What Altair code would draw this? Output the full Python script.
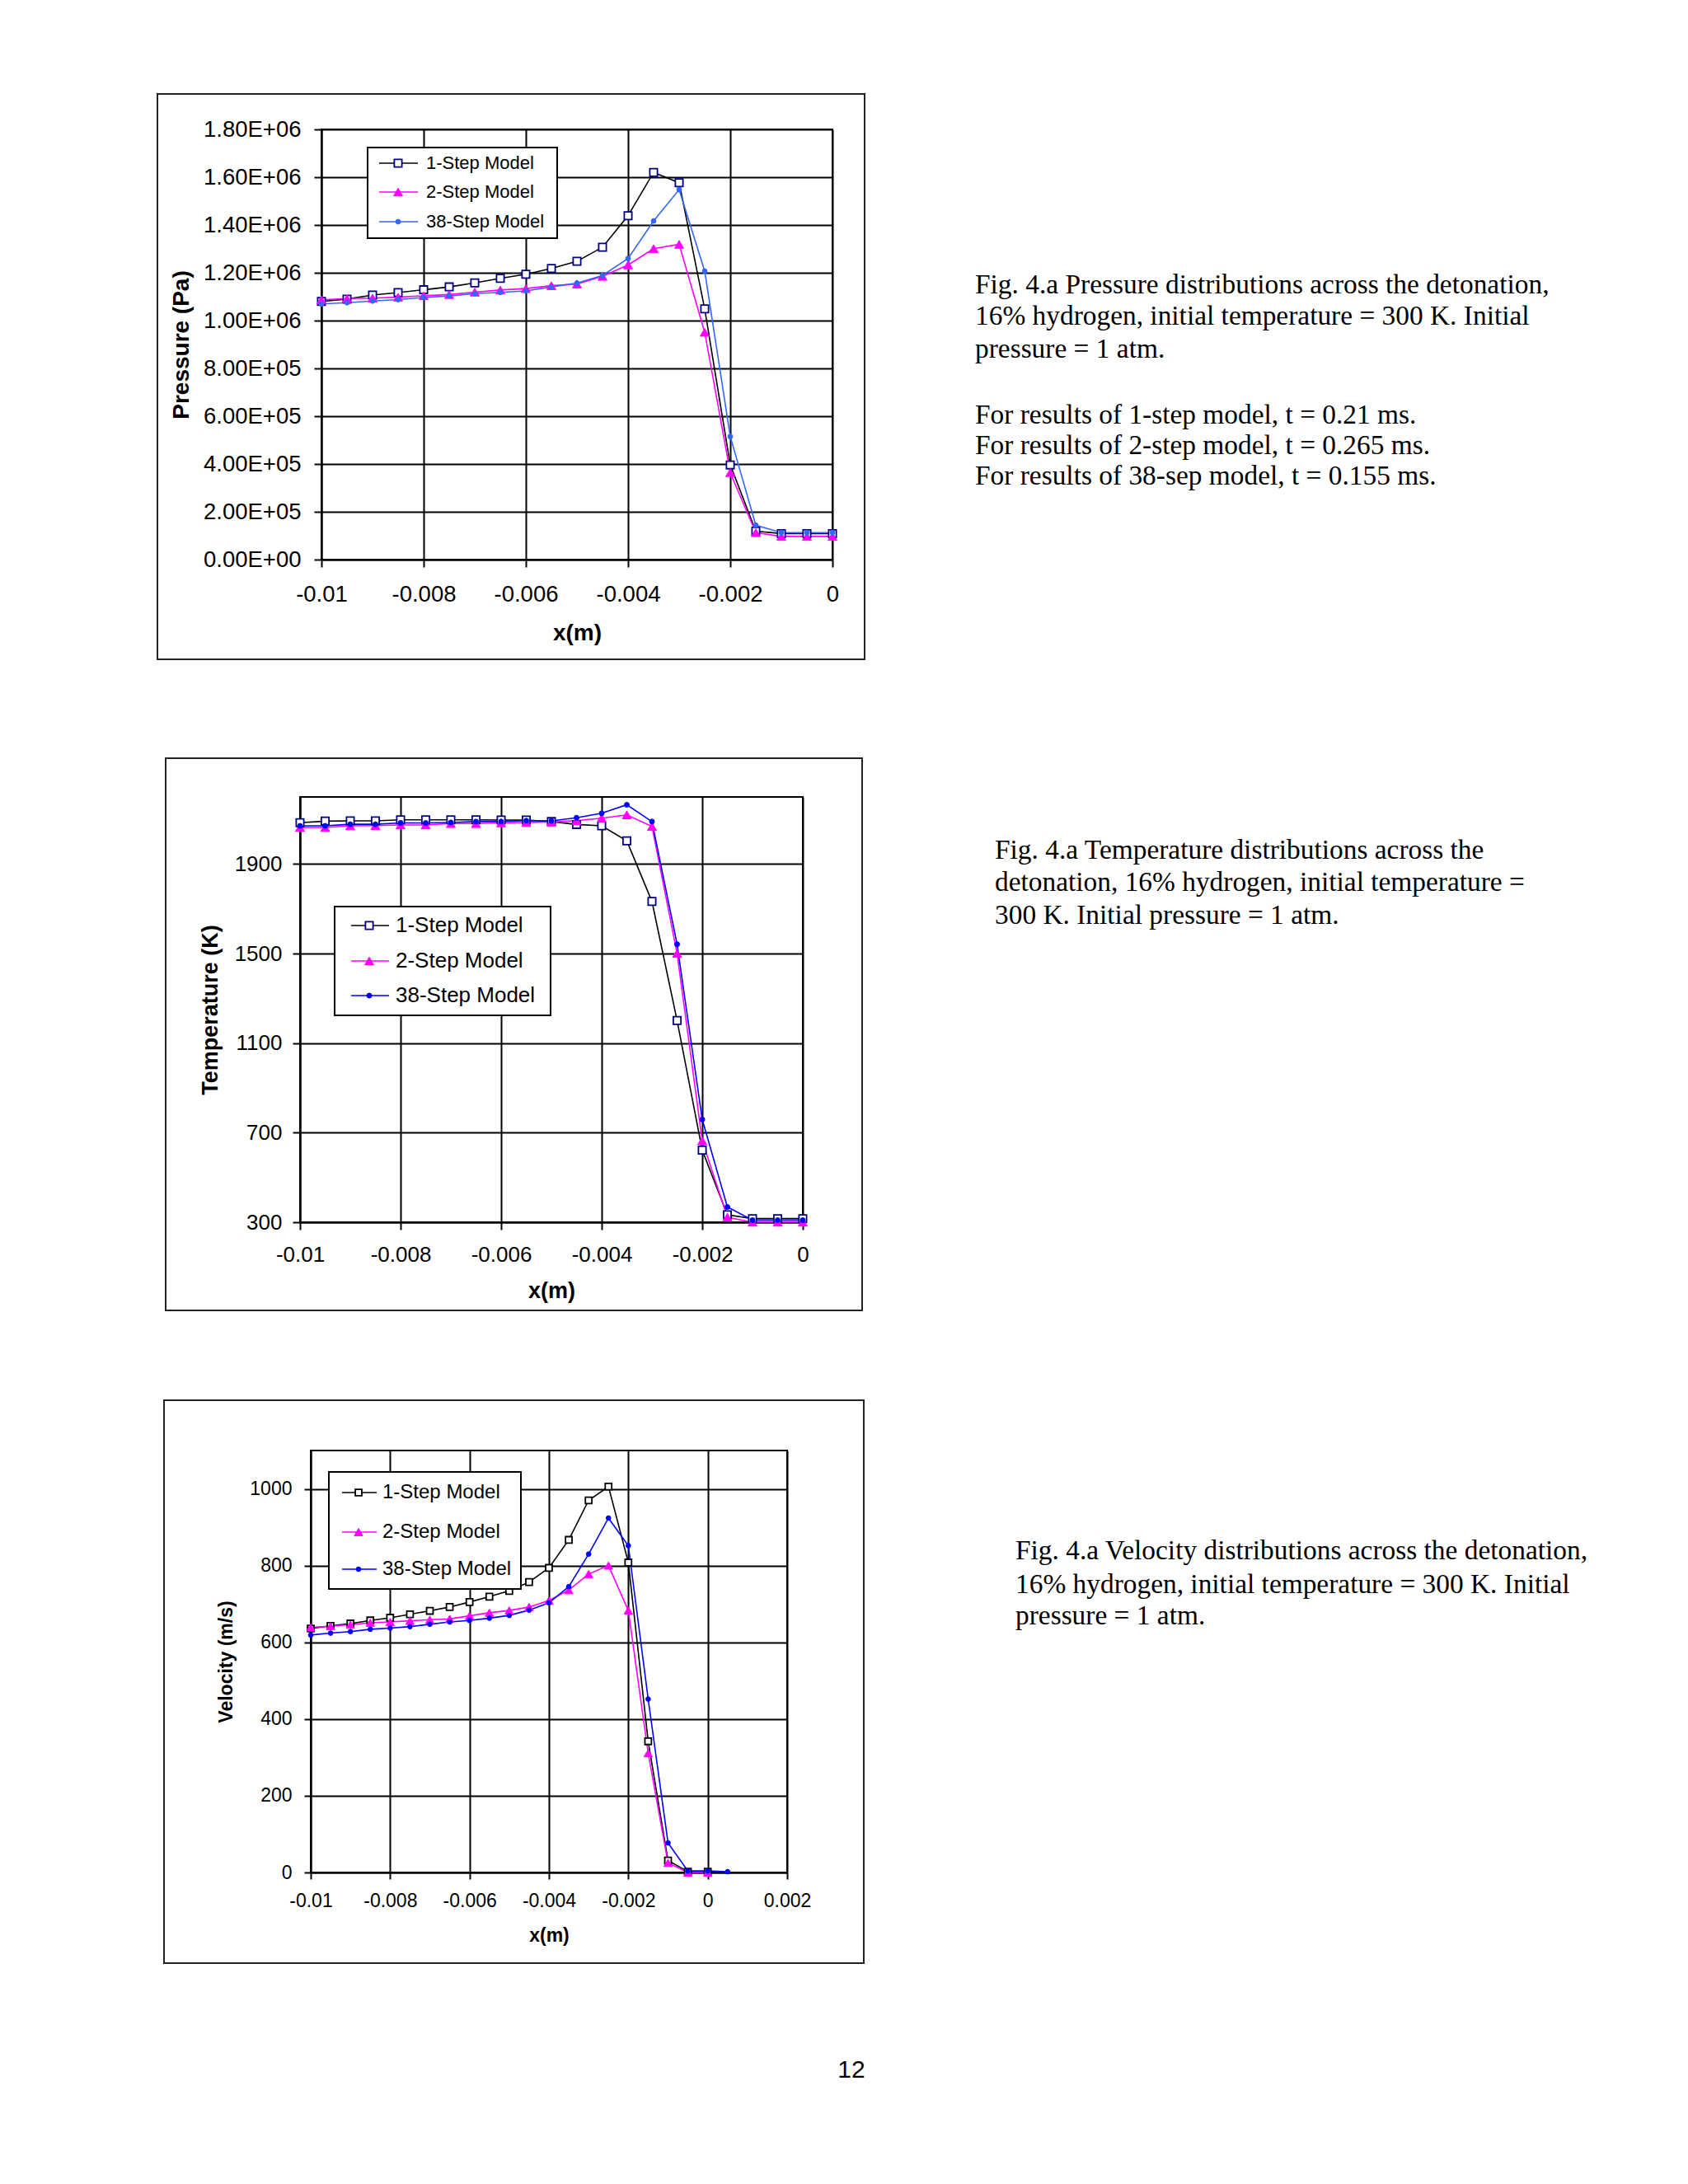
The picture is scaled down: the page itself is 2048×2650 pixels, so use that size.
import altair as alt
import pandas as pd

SANS = "Liberation Sans"
SERIF = "Liberation Serif"
LEGEND_NAMES = ["1-Step Model", "2-Step Model", "38-Step Model"]

# ---------------- Pressure ----------------
P_X = [-0.01, -0.0095, -0.009, -0.0085, -0.008, -0.0075, -0.007, -0.0065, -0.006, -0.0055,
       -0.005, -0.0045, -0.004, -0.0035, -0.003, -0.0025, -0.002, -0.0015, -0.001, -0.0005, 0.0]
P_1STEP = [1080000, 1090000, 1107000, 1117000, 1129000, 1141000, 1158000, 1177000, 1194000, 1218000,
           1248000, 1307000, 1439000, 1620000, 1577000, 1049000, 396000, 119000, 109000, 109000, 109000]
P_2STEP = [1087000, 1092000, 1094000, 1098000, 1104000, 1109000, 1119000, 1128000, 1134000, 1146000,
           1153000, 1185000, 1233000, 1301000, 1319000, 951000, 364000, 113000, 97000, 97000, 97000]
P_38STEP = [1070000, 1075000, 1082000, 1088000, 1097000, 1103000, 1113000, 1118000, 1124000, 1141000,
            1157000, 1189000, 1260000, 1417000, 1548000, 1207000, 515000, 144000, 113000, 113000, 113000]
P_XTICKS = [-0.01, -0.008, -0.006, -0.004, -0.002, 0.0]
P_YTICKS = [0, 200000, 400000, 600000, 800000, 1000000, 1200000, 1400000, 1600000, 1800000]
P_CAPTION = ["Fig. 4.a Pressure distributions across the detonation,",
             "16% hydrogen, initial temperature = 300 K. Initial",
             "pressure = 1 atm.",
             "For results of 1-step model, t = 0.21 ms.",
             "For results of 2-step model, t = 0.265 ms.",
             "For results of 38-sep model, t = 0.155 ms."]

# ---------------- Temperature ----------------
T_X = [-0.01, -0.0095, -0.009, -0.0085, -0.008, -0.0075, -0.007, -0.0065, -0.006, -0.0055,
       -0.005, -0.0045, -0.004, -0.0035, -0.003, -0.0025, -0.002, -0.0015, -0.001, -0.0005, 0.0]
T_1STEP = [2085, 2092, 2093, 2093, 2098, 2098, 2098, 2098, 2097, 2097,
           2090, 2077, 2071, 2004, 1733, 1201, 622, 333, 316, 316, 316]
T_2STEP = [2064, 2064, 2071, 2072, 2075, 2075, 2081, 2081, 2084, 2086,
           2088, 2094, 2105, 2120, 2068, 1501, 664, 322, 300, 300, 300]
T_38STEP = [2071, 2071, 2078, 2078, 2084, 2084, 2086, 2090, 2090, 2094,
            2093, 2107, 2127, 2165, 2090, 1542, 759, 368, 309, 309, 309]
T_XTICKS = [-0.01, -0.008, -0.006, -0.004, -0.002, 0.0]
T_YTICKS = [300, 700, 1100, 1500, 1900]
T_CAPTION = ["Fig. 4.a Temperature distributions across the",
             "detonation, 16% hydrogen, initial temperature =",
             "300 K. Initial pressure = 1 atm."]

# ---------------- Velocity ----------------
V_X = [-0.01, -0.0095, -0.009, -0.0085, -0.008, -0.0075, -0.007, -0.0065, -0.006, -0.0055,
       -0.005, -0.0045, -0.004, -0.0035, -0.003, -0.0025, -0.002, -0.0015, -0.001, -0.0005, 0.0]
V_X38 = [-0.01, -0.0095, -0.009, -0.0085, -0.008, -0.0075, -0.007, -0.0065, -0.006, -0.0055,
         -0.005, -0.0045, -0.004, -0.0035, -0.003, -0.0025, -0.002, -0.0015, -0.001, -0.0005, 0.0, 0.0005]
V_1STEP = [636, 643, 649, 657, 664, 673, 682, 692, 705, 719,
           734, 757, 794, 867, 970, 1006, 808, 342, 31, 2, 2]
V_2STEP = [639, 642, 646, 651, 653, 656, 659, 661, 669, 677,
           683, 692, 709, 736, 778, 800, 683, 311, 25, 0, 0]
V_38STEP = [619, 624, 628, 634, 637, 641, 647, 653, 657, 663,
            670, 684, 703, 745, 830, 924, 852, 452, 77, 4, 4, 2]
V_XTICKS = [-0.01, -0.008, -0.006, -0.004, -0.002, 0.0, 0.002]
V_YTICKS = [0, 200, 400, 600, 800, 1000]
V_CAPTION = ["Fig. 4.a Velocity distributions across the detonation,",
             "16% hydrogen, initial temperature = 300 K. Initial",
             "pressure = 1 atm."]
PAGE_NUMBER = "12"

ONE = pd.DataFrame({"a": [0]})
XLABEL = "(datum.value < 0 ? '-' : '') + format(abs(datum.value), '~g')"
PLABEL = ("datum.value == 0 ? '0.00E+00' : (datum.value < 1000000 ? "
          "format(datum.value / 100000, '.2f') + 'E+05' : format(datum.value / 1000000, '.2f') + 'E+06')")


def panel(series, xdom, ydom, xticks, yticks, ylabel_expr, ytitle, W, H, g):
    ax_common = dict(grid=True, gridColor="black", gridWidth=2, domainColor="black", domainWidth=2,
                     tickColor="black", tickWidth=2, tickSize=g["tick"], labelFont=SANS,
                     labelFontSize=g["lfs"], labelColor="black", labelFlush=False, labelOverlap=False,
                     titleFont=SANS, titleFontSize=g["tfs"], titleFontWeight="bold", titleColor="black",
                     titleBaseline="middle", titleAlign="center")
    x_enc = alt.X("x:Q", scale=alt.Scale(domain=xdom, nice=False, zero=False),
                  axis=alt.Axis(values=xticks, labelExpr=XLABEL, title="x(m)",
                                labelBaseline="middle", labelPadding=g["xlp"],
                                titleX=W / 2, titleY=g["xty"], **ax_common))
    y_enc = alt.Y("y:Q", scale=alt.Scale(domain=ydom, nice=False, zero=False),
                  axis=alt.Axis(values=yticks, labelExpr=ylabel_expr, title=ytitle,
                                labelPadding=g["ylp"], titleAngle=270,
                                titleX=g["ytx"], titleY=H / 2, **ax_common))
    layers = []
    bx = g["box"]
    layers.append(alt.Chart(ONE).mark_rect(fill="white", fillOpacity=0, stroke="#222222", strokeWidth=2)
                  .encode(x=alt.value(bx[0]), x2=alt.value(bx[1]), y=alt.value(bx[2]), y2=alt.value(bx[3])))
    for s in series:
        df = pd.DataFrame({"x": s["x"], "y": s["y"]})
        layers.append(alt.Chart(df).mark_line(color=s["line"], strokeWidth=1.6).encode(x=x_enc, y=y_enc))
    for s in series:
        df = pd.DataFrame({"x": s["x"], "y": s["y"]})
        layers.append(alt.Chart(df).mark_point(shape=s["shape"], size=s["size"], filled=True, fill=s["fill"],
                                               stroke=s["stroke"], strokeWidth=s["sw"], opacity=1)
                      .encode(x=x_enc, y=y_enc))
    # legend
    lb = g["lbox"]
    layers.append(alt.Chart(ONE).mark_rect(fill="white", stroke="black", strokeWidth=2)
                  .encode(x=alt.value(lb[0]), x2=alt.value(lb[1]), y=alt.value(lb[2]), y2=alt.value(lb[3])))
    for s, name, ry in zip(series, LEGEND_NAMES, g["lrows"]):
        layers.append(alt.Chart(ONE).mark_rule(color=s["line"], strokeWidth=1.6)
                      .encode(x=alt.value(g["lline"][0]), x2=alt.value(g["lline"][1]), y=alt.value(ry)))
        layers.append(alt.Chart(ONE).mark_point(shape=s["shape"], size=s["size"], filled=True, fill=s["fill"],
                                                stroke=s["stroke"], strokeWidth=s["sw"], opacity=1)
                      .encode(x=alt.value(g["lmark"]), y=alt.value(ry)))
        layers.append(alt.Chart(ONE).mark_text(align="left", baseline="middle", font=SANS,
                                               fontSize=g["lfont"], color="black")
                      .encode(x=alt.value(g["ltext"]), y=alt.value(ry), text=alt.value(name)))
    # caption
    for line, cy in zip(g["caption"], g["cys"]):
        layers.append(alt.Chart(ONE).mark_text(align="left", baseline="middle", font=SERIF,
                                               fontSize=33.4, color="black")
                      .encode(x=alt.value(g["cx"]), y=alt.value(cy), text=alt.value(line)))
    for t in g.get("extra", []):
        layers.append(alt.Chart(ONE).mark_text(align="center", baseline="middle", font=SANS,
                                               fontSize=t[3], color="black")
                      .encode(x=alt.value(t[0]), y=alt.value(t[1]), text=alt.value(t[2])))
    return alt.layer(*layers).properties(width=W, height=H,
                                         view=alt.ViewBackground(stroke="black", strokeWidth=2))


def series3(xs1, y1, xs2, y2, xs3, y3, c38, sqc, sq, tri, dot):
    return [
        dict(x=xs1, y=y1, line="black", shape="square", size=sq, fill="white", stroke=sqc, sw=1.8),
        dict(x=xs2, y=y2, line="#FF00FF", shape="triangle-up", size=tri, fill="#FF00FF", stroke="#FF00FF", sw=1),
        dict(x=xs3, y=y3, line=c38, shape="circle", size=dot, fill=c38, stroke=c38, sw=1),
    ]


def spacer(w, h):
    return (alt.Chart(ONE).mark_point(opacity=0)
            .encode(x=alt.X("a:Q", axis=None), y=alt.Y("a:Q", axis=None))
            .properties(width=w, height=h))


c1 = panel(series3(P_X, P_1STEP, P_X, P_2STEP, P_X, P_38STEP, "#3366FF", "#000080", 85, 120, 34),
           [-0.01, 0.0], [0, 1800000], P_XTICKS, P_YTICKS, PLABEL, "Pressure (Pa)", 620, 522,
           dict(tick=9, lfs=27.5, tfs=28, xlp=33, xty=89, ylp=16, ytx=-170,
                box=[-199, 659, -43, 643], lbox=[56, 286, 22, 132], lrows=[41, 76, 112],
                lline=[70, 117], lmark=93, ltext=127, lfont=22,
                caption=P_CAPTION, cx=793, cys=[189, 227, 267, 347, 384, 421]))

c2 = panel(series3(T_X, T_1STEP, T_X, T_2STEP, T_X, T_38STEP, "#0000FF", "#000080", 85, 120, 36),
           [-0.01, 0.0], [300, 2200], T_XTICKS, T_YTICKS, "format(datum.value, 'd')", "Temperature (K)",
           610, 516,
           dict(tick=9, lfs=26, tfs=27, xlp=30, xty=83, ylp=13, ytx=-109,
                box=[-163, 682, -47, 623], lbox=[42, 304, 133, 265], lrows=[156, 199, 241],
                lline=[62, 108], lmark=84, ltext=116, lfont=26,
                caption=T_CAPTION, cx=843, cys=[65, 104, 144]))

c3 = panel(series3(V_X, V_1STEP, V_X, V_2STEP, V_X38, V_38STEP, "#0000FF", "#000000", 62, 105, 32),
           [-0.01, 0.002], [0, 1100], V_XTICKS, V_YTICKS, "format(datum.value, 'd')", "Velocity (m/s)",
           578, 512,
           dict(tick=8, lfs=23, tfs=23, xlp=26, xty=76, ylp=15, ytx=-103,
                box=[-178, 671, -61, 622], lbox=[22, 255, 26, 168], lrows=[51, 99, 144],
                lline=[38, 80], lmark=58, ltext=87, lfont=24,
                caption=V_CAPTION, cx=855, cys=[122, 163, 201],
                extra=[(656, 752, PAGE_NUMBER, 30)]))

row1 = alt.hconcat(spacer(1, 656), c1, spacing=0)
row2 = alt.hconcat(spacer(14, 1), c2, spacing=0)
row3 = alt.hconcat(spacer(12, 1), c3, spacing=0)

chart = (alt.vconcat(row1, row2, row3, spacing=105)
         .properties(padding={"left": 174, "top": 104, "right": 5, "bottom": 5}, background="white")
         .configure_view(strokeWidth=0))

chart.save("out.html", embed_options={"renderer": "svg", "actions": False})
